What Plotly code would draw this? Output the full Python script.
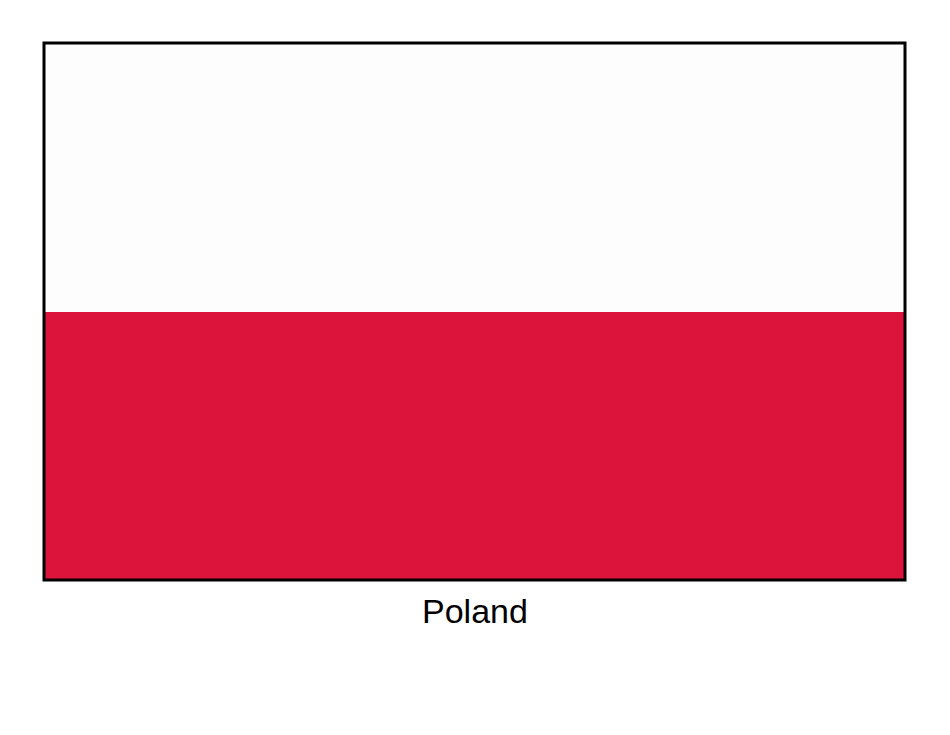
import plotly.graph_objects as go

stripes = ["Red", "White"]
stripe_heights = [1, 1]
stripe_colors = ["#DC143C", "#FDFDFD"]
country = "Poland"

fig = go.Figure()
for name, h, c in zip(stripes, stripe_heights, stripe_colors):
    fig.add_trace(go.Bar(x=[0], y=[h], name=name, marker=dict(color=c, line=dict(width=0)),
                         width=1, hoverinfo="skip", showlegend=False))

fig.update_layout(
    barmode="stack",
    width=934, height=719,
    margin=dict(l=36, r=37, t=35, b=147, pad=0),
    paper_bgcolor="white", plot_bgcolor="white",
    xaxis=dict(range=[-0.5, 0.5], visible=False, fixedrange=True),
    yaxis=dict(range=[0, sum(stripe_heights)], visible=False, fixedrange=True),
    bargap=0,
    shapes=[dict(type="rect", xref="paper", yref="paper", x0=0, x1=1, y0=0, y1=1,
                 line=dict(color="black", width=3), fillcolor="rgba(0,0,0,0)")],
    annotations=[dict(text=country, xref="paper", yref="paper", x=0.5, y=-0.058,
                      xanchor="center", yanchor="middle", showarrow=False,
                      font=dict(family="Liberation Sans, Arial", size=34, color="black"))],
)

fig.write_html("out.html")
